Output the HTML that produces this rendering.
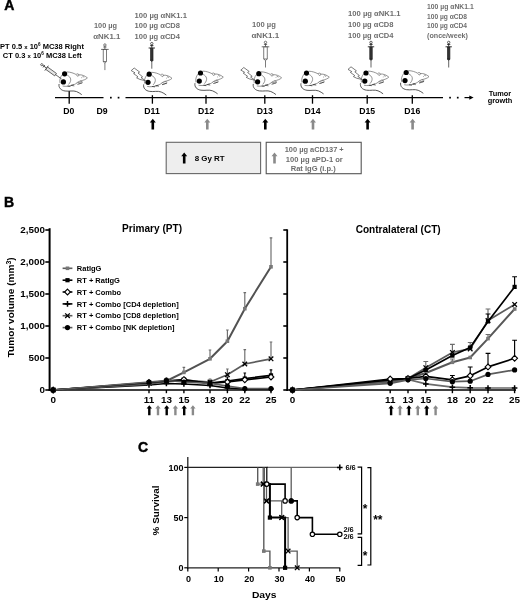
<!DOCTYPE html>
<html lang="en"><head><meta charset="utf-8"><title>Figure</title>
<style>html,body{margin:0;padding:0;background:#fff}body{width:520px;height:602px;overflow:hidden}svg{display:block}text{font-family:"Liberation Sans", Arial, sans-serif}.b{font-weight:bold}.g{fill:#777}</style>
</head><body>
<svg width="520" height="602" viewBox="0 0 520 602">
<rect width="520" height="602" fill="#fff"/>
<defs>
<g id="mouse" fill="none" stroke="#666" stroke-width="0.7" stroke-linecap="round" stroke-linejoin="round"><path d="M2.5,-1.9 C6,-1.8 9,-0.6 11.5,0.7 C12.5,-0.6 14.6,0 14.2,1.6 C13.9,2.8 12.4,2.6 12,1.6 M14.3,1.0 C17.5,0.6 20.5,2.2 22.8,4.1 C21.5,5.6 18.5,6.6 15.6,7.2 C14.2,7.6 13.2,8.2 12.4,8.9"/><path d="M18.2,2.6 L19.3,3.2 M15.8,7.3 L17.6,7.9 M13.6,8.6 L16.6,9.4 M12.2,9.2 C10.5,10.6 8.6,11.2 6.8,11.6 L9.4,12.1 M6.8,11.6 C4.5,12.4 1.5,12.9 -1.6,12.3"/><path d="M3.0,1.6 C6.3,3.2 7.6,6.6 4.2,10.4"/><path d="M3.2,12.3 L5.4,12.6 M6.6,11.6 L8.8,11.1 M13.2,10.4 L15.2,9.9 M15.9,9.5 L17.5,9.0" stroke="#444" stroke-width="0.9"/><circle cx="17.2" cy="3.9" r="0.45" fill="#555" stroke="none"/><path d="M-2.6,1.2 C-4.5,3.5 -5.2,6.5 -4.6,9"/><path d="M-5.6,10.6 C-6.2,14 -3.6,16.6 0.5,17.2 C4.5,17.8 8.5,16.4 12,17.8 C14,18.6 15.4,19.6 16.8,20.6" stroke="#444" stroke-width="0.9"/><circle cx="0" cy="0" r="2.6" fill="#000" stroke="none"/><circle cx="-1.2" cy="8.1" r="2.6" fill="#000" stroke="none"/></g>
<g id="bolt" fill="#fff" stroke="#444" stroke-width="0.7" stroke-linejoin="round"><path d="M-18,-3.6 L-15,-6.2 L-9.6,-2.2 L-11.2,-1.2 L-6.6,2.6 L-8.2,3.4 L-3.6,6.6 L-9.4,5.2 L-12.6,3.6 L-11.2,2.6 L-15.6,-0.6 L-14.2,-1.4 Z"/></g>
<g id="syrE" fill="#fff" stroke="#444" stroke-width="0.7"><circle cx="0" cy="1.4" r="1.2"/><path d="M0,2.6 V5.6 M-1.6,3.4 H1.6 M-3.8,5.8 H3.8" stroke-width="0.8"/><rect x="-1.7" y="6" width="3.4" height="12"/><path d="M-1.7,18 L0,19.6 L1.7,18 M0,19.6 V26.5" fill="none"/></g>
<g id="syrF" fill="#333" stroke="#222" stroke-width="0.7"><circle cx="0" cy="1.4" r="1.2" fill="#fff"/><path d="M0,2.6 V5.6 M-1.6,3.4 H1.6 M-3.2,5.8 H3.2" stroke-width="0.9"/><rect x="-1.2" y="6" width="2.4" height="12"/><path d="M-1.2,18 L0,19.6 L1.2,18 Z"/><path d="M0,19.6 V26.5" fill="none"/></g>
<path id="arr" d="M0,0 L2.7,3.4 H1.2 V10 H-1.2 V3.4 H-2.7 Z"/>
<path id="arrA" d="M0,0 L3,3.7 H1.3 V10.8 H-1.3 V3.7 H-3 Z"/>
</defs>
<text x="4.2" y="9.6" font-size="14" text-anchor="start" class="b" stroke="#000" stroke-width="0.45">A</text>
<text x="42.0" y="48.9" font-size="7.5" text-anchor="middle" class="b">PT 0.5 <tspan font-size="6">x</tspan> 10<tspan font-size="4.6" dy="-2.8">6</tspan><tspan dy="2.8"> </tspan>MC38 Right</text>
<text x="42.3" y="57.6" font-size="7.5" text-anchor="middle" class="b">CT 0.3 <tspan font-size="6">x</tspan> 10<tspan font-size="4.6" dy="-2.8">6</tspan><tspan dy="2.8"> </tspan>MC38 Left</text>
<text x="105.5" y="28.3" font-size="7.799999999999999" text-anchor="middle" class="b" fill="#6e6e6e" textLength="23" lengthAdjust="spacingAndGlyphs">100 µg</text>
<text x="106.8" y="39.0" font-size="7.799999999999999" text-anchor="middle" class="b" fill="#6e6e6e" textLength="27" lengthAdjust="spacingAndGlyphs">αNK1.1</text>
<text x="134.5" y="17.6" font-size="7.799999999999999" text-anchor="start" class="b" fill="#6e6e6e" textLength="52.5" lengthAdjust="spacingAndGlyphs">100 µg αNK1.1</text>
<text x="134.5" y="28.2" font-size="7.799999999999999" text-anchor="start" class="b" fill="#6e6e6e" textLength="45.5" lengthAdjust="spacingAndGlyphs">100 µg αCD8</text>
<text x="134.5" y="38.8" font-size="7.799999999999999" text-anchor="start" class="b" fill="#6e6e6e" textLength="45.5" lengthAdjust="spacingAndGlyphs">100 µg αCD4</text>
<text x="348.0" y="16.3" font-size="7.799999999999999" text-anchor="start" class="b" fill="#6e6e6e" textLength="52.5" lengthAdjust="spacingAndGlyphs">100 µg αNK1.1</text>
<text x="348.0" y="26.9" font-size="7.799999999999999" text-anchor="start" class="b" fill="#6e6e6e" textLength="45.5" lengthAdjust="spacingAndGlyphs">100 µg αCD8</text>
<text x="348.0" y="37.5" font-size="7.799999999999999" text-anchor="start" class="b" fill="#6e6e6e" textLength="45.5" lengthAdjust="spacingAndGlyphs">100 µg αCD4</text>
<text x="264.0" y="26.8" font-size="7.799999999999999" text-anchor="middle" class="b" fill="#6e6e6e" textLength="23.8" lengthAdjust="spacingAndGlyphs">100 µg</text>
<text x="265.3" y="37.7" font-size="7.799999999999999" text-anchor="middle" class="b" fill="#6e6e6e" textLength="27.8" lengthAdjust="spacingAndGlyphs">αNK1.1</text>
<text x="427.0" y="9.3" font-size="6.8999999999999995" text-anchor="start" class="b" fill="#6e6e6e" textLength="46.7" lengthAdjust="spacingAndGlyphs">100 µg αNK1.1</text>
<text x="427.0" y="18.9" font-size="6.8999999999999995" text-anchor="start" class="b" fill="#6e6e6e" textLength="40" lengthAdjust="spacingAndGlyphs">100 µg αCD8</text>
<text x="427.0" y="28.3" font-size="6.8999999999999995" text-anchor="start" class="b" fill="#6e6e6e" textLength="40" lengthAdjust="spacingAndGlyphs">100 µg αCD4</text>
<text x="427.0" y="37.7" font-size="6.8999999999999995" text-anchor="start" class="b" fill="#6e6e6e" textLength="41" lengthAdjust="spacingAndGlyphs">(once/week)</text>
<use href="#syrE" x="104.9" y="43.6"/>
<use href="#syrF" x="151.8" y="42.2"/>
<use href="#syrE" x="265.5" y="41"/>
<use href="#syrF" x="371" y="41"/>
<use href="#syrF" x="448.7" y="41"/>
<g transform="translate(41.8,64.7) rotate(-54.2)"><g fill="#fff" stroke="#3a3a3a" stroke-width="0.7"><circle cx="0" cy="0" r="1.1"/><path d="M0,1.1 V5.9 M-1.5,2.6 H1.5 M-3,5.9 H3" stroke-width="0.8"/><rect x="-1.5" y="6" width="3" height="11" fill="#e4e4e4"/><path d="M0,17 V24.4" fill="none"/></g></g>
<g stroke="#000" stroke-width="1.3" fill="none">
<path d="M55,97.6 H103.5 M125.5,97.6 H443"/>
<path d="M69.2,91 V103.7"/>
<path d="M152.4,95.2 V103.7"/>
<path d="M206,95.2 V103.7"/>
<path d="M264.8,95.2 V103.7"/>
<path d="M312.5,95.2 V103.7"/>
<path d="M367.2,95.2 V103.7"/>
<path d="M412.3,95.2 V103.7"/>
</g>
<rect x="110.0" y="96.8" width="1.7" height="1.7" fill="#000"/>
<rect x="117.7" y="96.8" width="1.7" height="1.7" fill="#000"/>
<rect x="449.2" y="96.8" width="1.7" height="1.7" fill="#000"/>
<rect x="456.9" y="96.8" width="1.7" height="1.7" fill="#000"/>
<path d="M464.5,97.6 H470" stroke="#000" stroke-width="1.2"/><path d="M469.3,95.4 L473.6,97.6 L469.3,99.8 Z" fill="#000"/>
<text x="68.8" y="113.7" font-size="8.7" text-anchor="middle" class="b">D0</text>
<text x="102.0" y="113.7" font-size="8.7" text-anchor="middle" class="b">D9</text>
<text x="152.0" y="113.7" font-size="8.7" text-anchor="middle" class="b">D11</text>
<text x="206.0" y="113.7" font-size="8.7" text-anchor="middle" class="b">D12</text>
<text x="264.8" y="113.7" font-size="8.7" text-anchor="middle" class="b">D13</text>
<text x="312.5" y="113.7" font-size="8.7" text-anchor="middle" class="b">D14</text>
<text x="367.2" y="113.7" font-size="8.7" text-anchor="middle" class="b">D15</text>
<text x="412.3" y="113.7" font-size="8.7" text-anchor="middle" class="b">D16</text>
<text x="500.0" y="95.8" font-size="7.4" text-anchor="middle" class="b">Tumor</text>
<text x="500.0" y="103.0" font-size="7.4" text-anchor="middle" class="b">growth</text>
<use href="#arrA" x="152.8" y="118.8" fill="#000"/>
<use href="#arrA" x="207.3" y="118.8" fill="#8a8a8a"/>
<use href="#arrA" x="265.3" y="118.8" fill="#000"/>
<use href="#arrA" x="313" y="118.8" fill="#8a8a8a"/>
<use href="#arrA" x="367.6" y="118.8" fill="#000"/>
<use href="#arrA" x="412.6" y="118.8" fill="#8a8a8a"/>
<use href="#mouse" x="64.6" y="73.8"/>
<use href="#bolt" x="149.2" y="74.2"/>
<use href="#mouse" x="149.2" y="74.2"/>
<use href="#mouse" x="200.5" y="73"/>
<use href="#bolt" x="258.8" y="73.7"/>
<use href="#mouse" x="258.8" y="73.7"/>
<use href="#mouse" x="306.5" y="73.1"/>
<use href="#bolt" x="366" y="73"/>
<use href="#mouse" x="366" y="73"/>
<use href="#mouse" x="406.2" y="72.5"/>
<rect x="166.2" y="142.3" width="94.4" height="31.3" fill="#eeeeee" stroke="#666" stroke-width="1.1"/>
<rect x="266.2" y="142.3" width="95" height="31.4" fill="#fff" stroke="#555" stroke-width="1.1"/>
<use href="#arrA" x="184.2" y="152.6" fill="#000"/>
<use href="#arrA" x="274.5" y="152.6" fill="#8a8a8a"/>
<text x="194.7" y="160.9" font-size="7.6" text-anchor="start" class="b" textLength="30" lengthAdjust="spacingAndGlyphs">8 Gy RT</text>
<text x="314.2" y="151.6" font-size="7.9" text-anchor="middle" class="b" fill="#6e6e6e" textLength="59" lengthAdjust="spacingAndGlyphs">100 µg aCD137 +</text>
<text x="314.3" y="161.9" font-size="7.9" text-anchor="middle" class="b" fill="#6e6e6e" textLength="57" lengthAdjust="spacingAndGlyphs">100 µg aPD-1 or</text>
<text x="313.2" y="171.2" font-size="7.9" text-anchor="middle" class="b" fill="#6e6e6e" textLength="45" lengthAdjust="spacingAndGlyphs">Rat IgG (i.p.)</text>
<text x="4.0" y="206.5" font-size="14" text-anchor="start" class="b" stroke="#000" stroke-width="0.45">B</text>
<text x="152.0" y="232.3" font-size="11" text-anchor="middle" class="b" textLength="60" lengthAdjust="spacingAndGlyphs">Primary (PT)</text>
<text x="398.2" y="232.6" font-size="11" text-anchor="middle" class="b" textLength="85" lengthAdjust="spacingAndGlyphs">Contralateral (CT)</text>
<g stroke="#000" fill="none">
<path d="M49.6,228.2 V391" stroke-width="2"/>
<path d="M48.6,390 H272.5" stroke-width="1.7"/>
<path d="M45.3,390.0 H49" stroke-width="1.6"/>
<path d="M45.3,358.0 H49" stroke-width="1.6"/>
<path d="M45.3,326.0 H49" stroke-width="1.6"/>
<path d="M45.3,294.0 H49" stroke-width="1.6"/>
<path d="M45.3,262.0 H49" stroke-width="1.6"/>
<path d="M45.3,230.0 H49" stroke-width="1.6"/>
<path d="M287.2,229.3 V391" stroke-width="1.8"/>
<path d="M286.4,390 H516" stroke-width="1.7"/>
<path d="M283.3,390.0 H287" stroke-width="1.6"/>
<path d="M283.3,358.0 H287" stroke-width="1.6"/>
<path d="M283.3,326.0 H287" stroke-width="1.6"/>
<path d="M283.3,294.0 H287" stroke-width="1.6"/>
<path d="M283.3,262.0 H287" stroke-width="1.6"/>
<path d="M283.3,230.0 H287" stroke-width="1.6"/>
</g>
<text x="44.9" y="393.0" font-size="9.8" text-anchor="end" class="b">0</text>
<text x="44.9" y="361.0" font-size="9.8" text-anchor="end" class="b">500</text>
<text x="44.9" y="329.0" font-size="9.8" text-anchor="end" class="b">1,000</text>
<text x="44.9" y="297.0" font-size="9.8" text-anchor="end" class="b">1,500</text>
<text x="44.9" y="265.0" font-size="9.8" text-anchor="end" class="b">2,000</text>
<text x="44.9" y="233.0" font-size="9.8" text-anchor="end" class="b">2,500</text>
<text transform="translate(14.2,307.3) rotate(-90)" font-size="9.9" text-anchor="middle" class="b" textLength="100" lengthAdjust="spacingAndGlyphs">Tumor volume (mm<tspan font-size="6.8" dy="-3.6">3</tspan><tspan dy="3.6">)</tspan></text>
<path d="M53.2,390 V393.2" stroke="#000" stroke-width="1.4"/>
<path d="M292.5,390 V393.2" stroke="#000" stroke-width="1.4"/>
<text x="53.2" y="403.2" font-size="9.9" text-anchor="middle" class="b">0</text>
<text x="292.5" y="403.4" font-size="9.9" text-anchor="middle" class="b">0</text>
<path d="M149.0,390 V393.2" stroke="#000" stroke-width="1.4"/>
<path d="M390.2,390 V393.2" stroke="#000" stroke-width="1.4"/>
<text x="149.0" y="403.2" font-size="9.9" text-anchor="middle" class="b">11</text>
<text x="390.2" y="403.4" font-size="9.9" text-anchor="middle" class="b">11</text>
<path d="M166.4,390 V393.2" stroke="#000" stroke-width="1.4"/>
<path d="M408.0,390 V393.2" stroke="#000" stroke-width="1.4"/>
<text x="166.4" y="403.2" font-size="9.9" text-anchor="middle" class="b">13</text>
<text x="408.0" y="403.4" font-size="9.9" text-anchor="middle" class="b">13</text>
<path d="M183.9,390 V393.2" stroke="#000" stroke-width="1.4"/>
<path d="M425.8,390 V393.2" stroke="#000" stroke-width="1.4"/>
<text x="183.9" y="403.2" font-size="9.9" text-anchor="middle" class="b">15</text>
<text x="425.8" y="403.4" font-size="9.9" text-anchor="middle" class="b">15</text>
<path d="M210.0,390 V393.2" stroke="#000" stroke-width="1.4"/>
<path d="M452.4,390 V393.2" stroke="#000" stroke-width="1.4"/>
<text x="210.0" y="403.2" font-size="9.9" text-anchor="middle" class="b">18</text>
<text x="452.4" y="403.4" font-size="9.9" text-anchor="middle" class="b">18</text>
<path d="M227.4,390 V393.2" stroke="#000" stroke-width="1.4"/>
<path d="M470.2,390 V393.2" stroke="#000" stroke-width="1.4"/>
<text x="227.4" y="403.2" font-size="9.9" text-anchor="middle" class="b">20</text>
<text x="470.2" y="403.4" font-size="9.9" text-anchor="middle" class="b">20</text>
<path d="M244.8,390 V393.2" stroke="#000" stroke-width="1.4"/>
<path d="M488.0,390 V393.2" stroke="#000" stroke-width="1.4"/>
<text x="244.8" y="403.2" font-size="9.9" text-anchor="middle" class="b">22</text>
<text x="488.0" y="403.4" font-size="9.9" text-anchor="middle" class="b">22</text>
<path d="M271.0,390 V393.2" stroke="#000" stroke-width="1.4"/>
<path d="M514.6,390 V393.2" stroke="#000" stroke-width="1.4"/>
<text x="271.0" y="403.2" font-size="9.9" text-anchor="middle" class="b">25</text>
<text x="514.6" y="403.4" font-size="9.9" text-anchor="middle" class="b">25</text>
<use href="#arr" x="149.3" y="405.2" fill="#000"/>
<use href="#arr" x="391.1" y="405.2" fill="#000"/>
<use href="#arr" x="158.0" y="405.2" fill="#8a8a8a"/>
<use href="#arr" x="400.0" y="405.2" fill="#8a8a8a"/>
<use href="#arr" x="166.7" y="405.2" fill="#000"/>
<use href="#arr" x="408.9" y="405.2" fill="#000"/>
<use href="#arr" x="175.4" y="405.2" fill="#8a8a8a"/>
<use href="#arr" x="417.8" y="405.2" fill="#8a8a8a"/>
<use href="#arr" x="184.2" y="405.2" fill="#000"/>
<use href="#arr" x="426.7" y="405.2" fill="#000"/>
<use href="#arr" x="192.9" y="405.2" fill="#8a8a8a"/>
<use href="#arr" x="435.6" y="405.2" fill="#8a8a8a"/>
<polyline points="53.2,390.0 149.0,385.0 166.4,383.5 183.9,384.0 210.0,385.5 227.4,388.0 244.8,389.0 271.0,389.0" fill="none" stroke="#000" stroke-width="1.7" stroke-linejoin="round"/>
<path d="M50.4,390.0 H56.0 M53.2,387.2 V392.8" stroke="#000" stroke-width="1.5" fill="none"/>
<path d="M146.2,385.0 H151.8 M149.0,382.2 V387.8" stroke="#000" stroke-width="1.5" fill="none"/>
<path d="M163.6,383.5 H169.2 M166.4,380.7 V386.3" stroke="#000" stroke-width="1.5" fill="none"/>
<path d="M181.1,384.0 H186.7 M183.9,381.2 V386.8" stroke="#000" stroke-width="1.5" fill="none"/>
<path d="M207.2,385.5 H212.8 M210.0,382.7 V388.3" stroke="#000" stroke-width="1.5" fill="none"/>
<path d="M224.6,388.0 H230.2 M227.4,385.2 V390.8" stroke="#000" stroke-width="1.5" fill="none"/>
<path d="M242.0,389.0 H247.6 M244.8,386.2 V391.8" stroke="#000" stroke-width="1.5" fill="none"/>
<path d="M268.2,389.0 H273.8 M271.0,386.2 V391.8" stroke="#000" stroke-width="1.5" fill="none"/>
<path d="M210.0,382.0 V379.0 M208.7,379.0 H211.3" stroke="#6c6c6c" stroke-width="1.15" fill="none"/>
<path d="M227.4,374.7 V369.0 M226.1,369.0 H228.7" stroke="#6c6c6c" stroke-width="1.15" fill="none"/>
<path d="M244.8,364.0 V349.6 M243.5,349.6 H246.1" stroke="#6c6c6c" stroke-width="1.15" fill="none"/>
<path d="M271.0,358.8 V342.0 M269.7,342.0 H272.3" stroke="#6c6c6c" stroke-width="1.15" fill="none"/>
<polyline points="53.2,390.0 149.0,383.0 166.4,381.0 183.9,380.0 210.0,382.0 227.4,374.7 244.8,364.0 271.0,358.8" fill="none" stroke="#5c5c5c" stroke-width="1.7" stroke-linejoin="round"/>
<path d="M50.9,387.7 L55.5,392.3 M50.9,392.3 L55.5,387.7" stroke="#000" stroke-width="1.3" fill="none"/>
<path d="M146.7,380.7 L151.3,385.3 M146.7,385.3 L151.3,380.7" stroke="#000" stroke-width="1.3" fill="none"/>
<path d="M164.1,378.7 L168.7,383.3 M164.1,383.3 L168.7,378.7" stroke="#000" stroke-width="1.3" fill="none"/>
<path d="M181.6,377.7 L186.2,382.3 M181.6,382.3 L186.2,377.7" stroke="#000" stroke-width="1.3" fill="none"/>
<path d="M207.7,379.7 L212.3,384.3 M207.7,384.3 L212.3,379.7" stroke="#000" stroke-width="1.3" fill="none"/>
<path d="M225.1,372.4 L229.7,377.0 M225.1,377.0 L229.7,372.4" stroke="#000" stroke-width="1.3" fill="none"/>
<path d="M242.5,361.7 L247.1,366.3 M242.5,366.3 L247.1,361.7" stroke="#000" stroke-width="1.3" fill="none"/>
<path d="M268.7,356.5 L273.3,361.1 M268.7,361.1 L273.3,356.5" stroke="#000" stroke-width="1.3" fill="none"/>
<path d="M227.4,381.0 V377.0 M226.1,377.0 H228.7" stroke="#000" stroke-width="1.15" fill="none"/>
<path d="M244.8,378.6 V373.0 M243.5,373.0 H246.1" stroke="#000" stroke-width="1.15" fill="none"/>
<path d="M271.0,375.4 V369.8 M269.7,369.8 H272.3" stroke="#000" stroke-width="1.15" fill="none"/>
<polyline points="53.2,390.0 149.0,383.0 166.4,381.5 183.9,381.0 210.0,383.0 227.4,381.0 244.8,378.6 271.0,375.4" fill="none" stroke="#000" stroke-width="1.7" stroke-linejoin="round"/>
<rect x="51.1" y="387.9" width="4.2" height="4.2" fill="#000"/>
<rect x="146.9" y="380.9" width="4.2" height="4.2" fill="#000"/>
<rect x="164.3" y="379.4" width="4.2" height="4.2" fill="#000"/>
<rect x="181.8" y="378.9" width="4.2" height="4.2" fill="#000"/>
<rect x="207.9" y="380.9" width="4.2" height="4.2" fill="#000"/>
<rect x="225.3" y="378.9" width="4.2" height="4.2" fill="#000"/>
<rect x="242.7" y="376.5" width="4.2" height="4.2" fill="#000"/>
<rect x="268.9" y="373.3" width="4.2" height="4.2" fill="#000"/>
<path d="M166.4,381.0 V378.0 M165.1,378.0 H167.7" stroke="#6c6c6c" stroke-width="1.15" fill="none"/>
<path d="M183.9,372.4 V367.3 M182.6,367.3 H185.2" stroke="#6c6c6c" stroke-width="1.15" fill="none"/>
<path d="M210.0,358.8 V350.0 M208.7,350.0 H211.3" stroke="#6c6c6c" stroke-width="1.15" fill="none"/>
<path d="M227.4,341.2 V330.0 M226.1,330.0 H228.7" stroke="#6c6c6c" stroke-width="1.15" fill="none"/>
<path d="M244.8,308.7 V292.6 M243.5,292.6 H246.1" stroke="#6c6c6c" stroke-width="1.15" fill="none"/>
<path d="M271.0,266.8 V237.8 M269.7,237.8 H272.3" stroke="#6c6c6c" stroke-width="1.15" fill="none"/>
<polyline points="53.2,390.0 149.0,384.0 166.4,381.0 183.9,372.4 210.0,358.8 227.4,341.2 244.8,308.7 271.0,266.8" fill="none" stroke="#525252" stroke-width="2" stroke-linejoin="round"/>
<rect x="51.4" y="388.2" width="3.6" height="3.6" fill="#787878"/>
<rect x="147.2" y="382.2" width="3.6" height="3.6" fill="#787878"/>
<rect x="164.6" y="379.2" width="3.6" height="3.6" fill="#787878"/>
<rect x="182.1" y="370.6" width="3.6" height="3.6" fill="#787878"/>
<rect x="208.2" y="357.0" width="3.6" height="3.6" fill="#787878"/>
<rect x="225.6" y="339.4" width="3.6" height="3.6" fill="#787878"/>
<rect x="243.0" y="306.9" width="3.6" height="3.6" fill="#787878"/>
<rect x="269.2" y="265.0" width="3.6" height="3.6" fill="#787878"/>
<polyline points="53.2,390.0 149.0,382.5 166.4,381.0 183.9,379.6 210.0,383.5 227.4,382.0 244.8,379.8 271.0,377.0" fill="none" stroke="#000" stroke-width="1.7" stroke-linejoin="round"/>
<path d="M53.2,387.1 L56.1,390.0 L53.2,392.9 L50.3,390.0 Z" fill="#fff" stroke="#000" stroke-width="1.1"/>
<path d="M149.0,379.6 L151.9,382.5 L149.0,385.4 L146.1,382.5 Z" fill="#fff" stroke="#000" stroke-width="1.1"/>
<path d="M166.4,378.1 L169.3,381.0 L166.4,383.9 L163.5,381.0 Z" fill="#fff" stroke="#000" stroke-width="1.1"/>
<path d="M183.9,376.7 L186.8,379.6 L183.9,382.5 L181.0,379.6 Z" fill="#fff" stroke="#000" stroke-width="1.1"/>
<path d="M210.0,380.6 L212.9,383.5 L210.0,386.4 L207.1,383.5 Z" fill="#fff" stroke="#000" stroke-width="1.1"/>
<path d="M227.4,379.1 L230.3,382.0 L227.4,384.9 L224.5,382.0 Z" fill="#fff" stroke="#000" stroke-width="1.1"/>
<path d="M244.8,376.9 L247.7,379.8 L244.8,382.7 L241.9,379.8 Z" fill="#fff" stroke="#000" stroke-width="1.1"/>
<path d="M271.0,374.1 L273.9,377.0 L271.0,379.9 L268.1,377.0 Z" fill="#fff" stroke="#000" stroke-width="1.1"/>
<polyline points="53.2,390.0 149.0,382.0 166.4,380.5 183.9,382.0 210.0,383.4 227.4,386.0 244.8,388.5 271.0,388.5" fill="none" stroke="#5c5c5c" stroke-width="1.7" stroke-linejoin="round"/>
<circle cx="53.2" cy="390.0" r="2.6" fill="#000"/>
<circle cx="149.0" cy="382.0" r="2.6" fill="#000"/>
<circle cx="166.4" cy="380.5" r="2.6" fill="#000"/>
<circle cx="183.9" cy="382.0" r="2.6" fill="#000"/>
<circle cx="210.0" cy="383.4" r="2.6" fill="#000"/>
<circle cx="227.4" cy="386.0" r="2.6" fill="#000"/>
<circle cx="244.8" cy="388.5" r="2.6" fill="#000"/>
<circle cx="271.0" cy="388.5" r="2.6" fill="#000"/>
<polyline points="292.5,390.0 390.2,382.0 408.0,379.5 425.8,383.9 452.4,387.2 470.2,387.8 488.0,388.0 514.6,388.0" fill="none" stroke="#6a6a6a" stroke-width="1.7" stroke-linejoin="round"/>
<path d="M289.7,390.0 H295.3 M292.5,387.2 V392.8" stroke="#000" stroke-width="1.5" fill="none"/>
<path d="M387.4,382.0 H393.0 M390.2,379.2 V384.8" stroke="#000" stroke-width="1.5" fill="none"/>
<path d="M405.2,379.5 H410.8 M408.0,376.7 V382.3" stroke="#000" stroke-width="1.5" fill="none"/>
<path d="M423.0,383.9 H428.6 M425.8,381.1 V386.7" stroke="#000" stroke-width="1.5" fill="none"/>
<path d="M449.6,387.2 H455.2 M452.4,384.4 V390.0" stroke="#000" stroke-width="1.5" fill="none"/>
<path d="M467.4,387.8 H473.0 M470.2,385.0 V390.6" stroke="#000" stroke-width="1.5" fill="none"/>
<path d="M485.2,388.0 H490.8 M488.0,385.2 V390.8" stroke="#000" stroke-width="1.5" fill="none"/>
<path d="M511.8,388.0 H517.4 M514.6,385.2 V390.8" stroke="#000" stroke-width="1.5" fill="none"/>
<path d="M425.8,373.0 V370.0 M423.4,370.0 H428.2" stroke="#6c6c6c" stroke-width="1.15" fill="none"/>
<path d="M452.4,362.3 V359.0 M450.0,359.0 H454.8" stroke="#6c6c6c" stroke-width="1.15" fill="none"/>
<path d="M488.0,338.6 V334.5 M485.6,334.5 H490.4" stroke="#6c6c6c" stroke-width="1.15" fill="none"/>
<polyline points="292.5,390.0 390.2,381.0 408.0,378.5 425.8,373.0 452.4,362.3 470.2,357.5 488.0,338.6 514.6,309.0" fill="none" stroke="#585858" stroke-width="2" stroke-linejoin="round"/>
<rect x="290.7" y="388.2" width="3.6" height="3.6" fill="#787878"/>
<rect x="388.4" y="379.2" width="3.6" height="3.6" fill="#787878"/>
<rect x="406.2" y="376.7" width="3.6" height="3.6" fill="#787878"/>
<rect x="424.0" y="371.2" width="3.6" height="3.6" fill="#787878"/>
<rect x="450.6" y="360.5" width="3.6" height="3.6" fill="#787878"/>
<rect x="468.4" y="355.7" width="3.6" height="3.6" fill="#787878"/>
<rect x="486.2" y="336.8" width="3.6" height="3.6" fill="#787878"/>
<rect x="512.9" y="307.2" width="3.6" height="3.6" fill="#787878"/>
<path d="M425.8,367.7 V361.5 M423.4,361.5 H428.2" stroke="#6c6c6c" stroke-width="1.15" fill="none"/>
<path d="M452.4,352.4 V344.3 M450.0,344.3 H454.8" stroke="#6c6c6c" stroke-width="1.15" fill="none"/>
<path d="M470.2,348.9 V342.5 M467.8,342.5 H472.6" stroke="#6c6c6c" stroke-width="1.15" fill="none"/>
<path d="M488.0,320.6 V309.0 M485.6,309.0 H490.4" stroke="#6c6c6c" stroke-width="1.15" fill="none"/>
<polyline points="292.5,390.0 390.2,380.5 408.0,378.5 425.8,367.7 452.4,352.4 470.2,348.9 488.0,320.6 514.6,304.4" fill="none" stroke="#5c5c5c" stroke-width="1.7" stroke-linejoin="round"/>
<path d="M290.2,387.7 L294.8,392.3 M290.2,392.3 L294.8,387.7" stroke="#000" stroke-width="1.3" fill="none"/>
<path d="M387.9,378.2 L392.5,382.8 M387.9,382.8 L392.5,378.2" stroke="#000" stroke-width="1.3" fill="none"/>
<path d="M405.7,376.2 L410.3,380.8 M405.7,380.8 L410.3,376.2" stroke="#000" stroke-width="1.3" fill="none"/>
<path d="M423.5,365.4 L428.1,370.0 M423.5,370.0 L428.1,365.4" stroke="#000" stroke-width="1.3" fill="none"/>
<path d="M450.1,350.1 L454.7,354.7 M450.1,354.7 L454.7,350.1" stroke="#000" stroke-width="1.3" fill="none"/>
<path d="M467.9,346.6 L472.5,351.2 M467.9,351.2 L472.5,346.6" stroke="#000" stroke-width="1.3" fill="none"/>
<path d="M485.7,318.3 L490.3,322.9 M485.7,322.9 L490.3,318.3" stroke="#000" stroke-width="1.3" fill="none"/>
<path d="M512.4,302.1 L516.9,306.7 M512.4,306.7 L516.9,302.1" stroke="#000" stroke-width="1.3" fill="none"/>
<path d="M488.0,321.4 V314.0 M485.6,314.0 H490.4" stroke="#000" stroke-width="1.15" fill="none"/>
<path d="M514.6,286.9 V276.7 M512.2,276.7 H517.0" stroke="#000" stroke-width="1.15" fill="none"/>
<polyline points="292.5,390.0 390.2,380.0 408.0,378.5 425.8,369.9 452.4,355.6 470.2,347.5 488.0,321.4 514.6,286.9" fill="none" stroke="#000" stroke-width="1.7" stroke-linejoin="round"/>
<rect x="290.4" y="387.9" width="4.2" height="4.2" fill="#000"/>
<rect x="388.1" y="377.9" width="4.2" height="4.2" fill="#000"/>
<rect x="405.9" y="376.4" width="4.2" height="4.2" fill="#000"/>
<rect x="423.7" y="367.8" width="4.2" height="4.2" fill="#000"/>
<rect x="450.3" y="353.5" width="4.2" height="4.2" fill="#000"/>
<rect x="468.1" y="345.4" width="4.2" height="4.2" fill="#000"/>
<rect x="485.9" y="319.3" width="4.2" height="4.2" fill="#000"/>
<rect x="512.5" y="284.8" width="4.2" height="4.2" fill="#000"/>
<path d="M452.4,379.8 V375.5 M450.0,375.5 H454.8" stroke="#000" stroke-width="1.15" fill="none"/>
<path d="M470.2,375.8 V367.0 M467.8,367.0 H472.6" stroke="#000" stroke-width="1.15" fill="none"/>
<path d="M488.0,366.9 V353.4 M485.6,353.4 H490.4" stroke="#000" stroke-width="1.15" fill="none"/>
<path d="M514.6,358.3 V340.2 M512.2,340.2 H517.0" stroke="#000" stroke-width="1.15" fill="none"/>
<polyline points="292.5,390.0 390.2,379.0 408.0,378.5 425.8,376.3 452.4,379.8 470.2,375.8 488.0,366.9 514.6,358.3" fill="none" stroke="#000" stroke-width="1.7" stroke-linejoin="round"/>
<path d="M292.5,387.1 L295.4,390.0 L292.5,392.9 L289.6,390.0 Z" fill="#fff" stroke="#000" stroke-width="1.1"/>
<path d="M390.2,376.1 L393.1,379.0 L390.2,381.9 L387.3,379.0 Z" fill="#fff" stroke="#000" stroke-width="1.1"/>
<path d="M408.0,375.6 L410.9,378.5 L408.0,381.4 L405.1,378.5 Z" fill="#fff" stroke="#000" stroke-width="1.1"/>
<path d="M425.8,373.4 L428.7,376.3 L425.8,379.2 L422.9,376.3 Z" fill="#fff" stroke="#000" stroke-width="1.1"/>
<path d="M452.4,376.9 L455.3,379.8 L452.4,382.7 L449.5,379.8 Z" fill="#fff" stroke="#000" stroke-width="1.1"/>
<path d="M470.2,372.9 L473.1,375.8 L470.2,378.7 L467.3,375.8 Z" fill="#fff" stroke="#000" stroke-width="1.1"/>
<path d="M488.0,364.0 L490.9,366.9 L488.0,369.8 L485.1,366.9 Z" fill="#fff" stroke="#000" stroke-width="1.1"/>
<path d="M514.6,355.4 L517.5,358.3 L514.6,361.2 L511.8,358.3 Z" fill="#fff" stroke="#000" stroke-width="1.1"/>
<polyline points="292.5,390.0 390.2,383.3 408.0,379.8 425.8,378.5 452.4,381.7 470.2,381.2 488.0,374.4 514.6,369.9" fill="none" stroke="#5c5c5c" stroke-width="1.7" stroke-linejoin="round"/>
<circle cx="292.5" cy="390.0" r="2.6" fill="#000"/>
<circle cx="390.2" cy="383.3" r="2.6" fill="#000"/>
<circle cx="408.0" cy="379.8" r="2.6" fill="#000"/>
<circle cx="425.8" cy="378.5" r="2.6" fill="#000"/>
<circle cx="452.4" cy="381.7" r="2.6" fill="#000"/>
<circle cx="470.2" cy="381.2" r="2.6" fill="#000"/>
<circle cx="488.0" cy="374.4" r="2.6" fill="#000"/>
<circle cx="514.6" cy="369.9" r="2.6" fill="#000"/>
<path d="M62.6,268.3 H72.4" stroke="#5c5c5c" stroke-width="1.6"/>
<rect x="65.7" y="266.5" width="3.6" height="3.6" fill="#787878"/>
<text x="76.8" y="271.0" font-size="7.5" text-anchor="start" class="b">RatIgG</text>
<path d="M62.6,280.2 H72.4" stroke="#000" stroke-width="1.6"/>
<rect x="65.4" y="278.1" width="4.2" height="4.2" fill="#000"/>
<text x="76.8" y="282.9" font-size="7.5" text-anchor="start" class="b">RT + RatIgG</text>
<path d="M62.6,292.0 H72.4" stroke="#000" stroke-width="1.6"/>
<path d="M67.5,289.1 L70.4,292.0 L67.5,294.9 L64.6,292.0 Z" fill="#fff" stroke="#000" stroke-width="1.1"/>
<text x="76.8" y="294.7" font-size="7.5" text-anchor="start" class="b">RT + Combo</text>
<path d="M62.6,303.9 H72.4" stroke="#000" stroke-width="1.6"/>
<path d="M64.7,303.9 H70.3 M67.5,301.1 V306.7" stroke="#000" stroke-width="1.5" fill="none"/>
<text x="76.8" y="306.6" font-size="7.5" text-anchor="start" class="b">RT + Combo [CD4 depletion]</text>
<path d="M62.6,315.7 H72.4" stroke="#5c5c5c" stroke-width="1.6"/>
<path d="M65.2,313.4 L69.8,318.0 M65.2,318.0 L69.8,313.4" stroke="#000" stroke-width="1.3" fill="none"/>
<text x="76.8" y="318.4" font-size="7.5" text-anchor="start" class="b">RT + Combo [CD8 depletion]</text>
<path d="M62.6,327.6 H72.4" stroke="#5c5c5c" stroke-width="1.6"/>
<circle cx="67.5" cy="327.6" r="2.6" fill="#000"/>
<text x="76.8" y="330.2" font-size="7.5" text-anchor="start" class="b">RT + Combo [NK depletion]</text>
<text x="137.9" y="451.9" font-size="14" text-anchor="start" class="b" stroke="#000" stroke-width="0.45">C</text>
<g stroke="#000" fill="none">
<path d="M187.8,457 V568.5" stroke-width="1.3" stroke="#222"/>
<path d="M187.2,567.9 H340.3" stroke-width="1.3" stroke="#222"/>
<path d="M184.3,567.8 H187.8" stroke-width="1.2"/>
<path d="M184.3,517.6 H187.8" stroke-width="1.2"/>
<path d="M184.3,467.4 H187.8" stroke-width="1.2"/>
<path d="M187.8,567.9 V571.6" stroke-width="1.2"/>
<path d="M218.2,567.9 V571.6" stroke-width="1.2"/>
<path d="M248.6,567.9 V571.6" stroke-width="1.2"/>
<path d="M279.0,567.9 V571.6" stroke-width="1.2"/>
<path d="M309.4,567.9 V571.6" stroke-width="1.2"/>
<path d="M339.8,567.9 V571.6" stroke-width="1.2"/>
</g>
<text x="183.6" y="571.1" font-size="9" text-anchor="end" class="b">0</text>
<text x="183.6" y="520.9" font-size="9" text-anchor="end" class="b">50</text>
<text x="183.6" y="470.7" font-size="9" text-anchor="end" class="b">100</text>
<text x="188.4" y="582.0" font-size="9" text-anchor="middle" class="b">0</text>
<text x="218.8" y="582.0" font-size="9" text-anchor="middle" class="b">10</text>
<text x="249.2" y="582.0" font-size="9" text-anchor="middle" class="b">20</text>
<text x="279.6" y="582.0" font-size="9" text-anchor="middle" class="b">30</text>
<text x="310.0" y="582.0" font-size="9" text-anchor="middle" class="b">40</text>
<text x="340.4" y="582.0" font-size="9" text-anchor="middle" class="b">50</text>
<text x="264.2" y="598.4" font-size="9.9" text-anchor="middle" class="b" textLength="24.6" lengthAdjust="spacingAndGlyphs">Days</text>
<text transform="translate(159.2,510.4) rotate(-90)" font-size="9.7" text-anchor="middle" class="b" textLength="50" lengthAdjust="spacingAndGlyphs">% Survival</text>
<path d="M266.8,467.4 H339.8" stroke="#666" stroke-width="1.2" fill="none"/>
<path d="M187.8,467.4 H267.8" stroke="#222" stroke-width="1.4" fill="none"/>
<path d="M337.0,467.4 H342.6 M339.8,464.6 V470.2" stroke="#000" stroke-width="1.5" fill="none"/>
<path d="M291.2,467.4 H291.2 V500.9" fill="none" stroke="#5c5c5c" stroke-width="1.3" stroke-linejoin="miter"/>
<circle cx="291.2" cy="500.9" r="2.6" fill="#000"/>
<path d="M257.7,467.4 H257.7 V484.1 H263.8 V551.1 H269.9 V567.8" fill="none" stroke="#5c5c5c" stroke-width="1.4" stroke-linejoin="miter"/>
<rect x="255.9" y="482.3" width="3.6" height="3.6" fill="#787878"/>
<rect x="262.0" y="549.3" width="3.6" height="3.6" fill="#787878"/>
<rect x="268.1" y="566.0" width="3.6" height="3.6" fill="#787878"/>
<path d="M263.2,467.4 H263.2 V484.1 H266.5 V500.9 H281.7 V517.6 H288.1 V551.1 H297.2 V567.8" fill="none" stroke="#5c5c5c" stroke-width="1.3" stroke-linejoin="miter"/>
<path d="M260.9,481.8 L265.5,486.4 M260.9,486.4 L265.5,481.8" stroke="#000" stroke-width="1.3" fill="none"/>
<path d="M264.2,498.6 L268.8,503.2 M264.2,503.2 L268.8,498.6" stroke="#000" stroke-width="1.3" fill="none"/>
<path d="M279.4,515.3 L284.0,519.9 M279.4,519.9 L284.0,515.3" stroke="#000" stroke-width="1.3" fill="none"/>
<path d="M285.8,548.8 L290.4,553.4 M285.8,553.4 L290.4,548.8" stroke="#000" stroke-width="1.3" fill="none"/>
<path d="M294.9,565.5 L299.5,570.1 M294.9,570.1 L299.5,565.5" stroke="#000" stroke-width="1.3" fill="none"/>
<path d="M266.8,467.4 V484.1" fill="none" stroke="#000" stroke-width="1.2"/>
<path d="M266.8,484.1 H266.8 H269.9 V517.6 H285.1 V567.8" fill="none" stroke="#000" stroke-width="2" stroke-linejoin="miter"/>
<rect x="267.8" y="515.5" width="4.2" height="4.2" fill="#000"/>
<rect x="283.0" y="565.7" width="4.2" height="4.2" fill="#000"/>
<path d="M266.8,484.1 H285.1 V500.9 M291.2,500.9 H297.2 V517.6 H312.4 V534.3 H339.8" fill="none" stroke="#000" stroke-width="1.6"/>
<path d="M264.4,467.4 V500.9" fill="none" stroke="#5c5c5c" stroke-width="1.2"/>
<circle cx="266.8" cy="484.1" r="2.2" fill="#fff" stroke="#000" stroke-width="1.2"/>
<circle cx="285.1" cy="500.9" r="2.2" fill="#fff" stroke="#000" stroke-width="1.2"/>
<circle cx="297.2" cy="517.6" r="2.2" fill="#fff" stroke="#000" stroke-width="1.2"/>
<circle cx="312.4" cy="534.3" r="2.2" fill="#fff" stroke="#000" stroke-width="1.2"/>
<circle cx="339.8" cy="534.3" r="2.2" fill="#fff" stroke="#000" stroke-width="1.2"/>
<path d="M260.9,481.8 L265.5,486.4 M260.9,486.4 L265.5,481.8" stroke="#000" stroke-width="1.3" fill="none"/>
<path d="M264.2,498.6 L268.8,503.2 M264.2,503.2 L268.8,498.6" stroke="#000" stroke-width="1.3" fill="none"/>
<path d="M279.4,515.3 L284.0,519.9 M279.4,519.9 L284.0,515.3" stroke="#000" stroke-width="1.3" fill="none"/>
<circle cx="291.2" cy="500.9" r="2.6" fill="#000"/>
<text x="345.4" y="469.6" font-size="7.4" text-anchor="start" class="b">6/6</text>
<text x="343.4" y="532.2" font-size="7.4" text-anchor="start" class="b">2/6</text>
<text x="343.4" y="538.9" font-size="7.4" text-anchor="start" class="b">2/6</text>
<g stroke="#000" stroke-width="1.2" fill="none">
<path d="M357.6,467.2 H361.6 V533.8 H357.6"/>
<path d="M357.6,537.4 H361.6 V565.4 H357.6"/>
<path d="M367.4,467.6 H370.8 V565 H367.4"/>
</g>
<text x="365.0" y="512.6" font-size="12" text-anchor="middle" class="b">*</text>
<text x="365.0" y="560.3" font-size="12" text-anchor="middle" class="b">*</text>
<text x="377.8" y="524.2" font-size="12" text-anchor="middle" class="b">**</text>
</svg>
</body></html>
